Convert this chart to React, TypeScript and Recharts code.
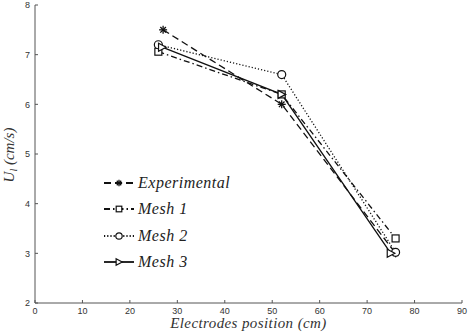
import { Line, LineChart, XAxis, YAxis } from 'recharts';

const expPositions = [27, 52, 76];
const expValues = [7.5, 6.0, 3.0];
const mesh1Positions = [26, 52, 76];
const mesh1Values = [7.06, 6.2, 3.3];
const mesh2Positions = [26, 52, 76];
const mesh2Values = [7.2, 6.6, 3.02];
const mesh3Positions = [26.8, 52, 75];
const mesh3Values = [7.15, 6.2, 3.0];

const xTicks = [0, 10, 20, 30, 40, 50, 60, 70, 80, 90];
const yTicks = [2, 3, 4, 5, 6, 7, 8];

const toPoints = (xs: number[], ys: number[]) => xs.map((x, i) => ({ x, y: ys[i] }));

type DotProps = { cx?: number; cy?: number; index?: number; s?: number };

function Star({ cx = 0, cy = 0, s = 1 }: DotProps) {
  const r = 4 * s;
  const d = r * 0.7;
  return (
    <g stroke="#111" strokeWidth={1.3}>
      <line x1={cx - r} y1={cy} x2={cx + r} y2={cy} />
      <line x1={cx} y1={cy - r} x2={cx} y2={cy + r} />
      <line x1={cx - d} y1={cy - d} x2={cx + d} y2={cy + d} />
      <line x1={cx - d} y1={cy + d} x2={cx + d} y2={cy - d} />
    </g>
  );
}

function Square({ cx = 0, cy = 0, s = 1 }: DotProps) {
  const h = 3.5 * s;
  return <rect x={cx - h} y={cy - h} width={2 * h} height={2 * h} fill="#fff" stroke="#111" strokeWidth={1.2} />;
}

function Circle({ cx = 0, cy = 0, s = 1 }: DotProps) {
  return <circle cx={cx} cy={cy} r={4 * s} fill="#fff" stroke="#111" strokeWidth={1.2} />;
}

function Triangle({ cx = 0, cy = 0, s = 1 }: DotProps) {
  const h = 4 * s;
  return (
    <polygon
      points={`${cx - h * 0.9},${cy - h} ${cx + h},${cy} ${cx - h * 0.9},${cy + h}`}
      fill="#fff"
      stroke="#111"
      strokeWidth={1.2}
    />
  );
}

const series = [
  { name: 'Experimental', data: toPoints(expPositions, expValues), dash: '7 4', Marker: Star },
  { name: 'Mesh 1', data: toPoints(mesh1Positions, mesh1Values), dash: '6 3 1.5 3', Marker: Square },
  { name: 'Mesh 2', data: toPoints(mesh2Positions, mesh2Values), dash: '1.2 2', Marker: Circle },
  { name: 'Mesh 3', data: toPoints(mesh3Positions, mesh3Values), dash: undefined, Marker: Triangle },
];

const tickStyle = { fill: '#333', fontSize: 9, fontFamily: 'Liberation Sans, sans-serif' };
const labelFont = 'Liberation Serif, serif';

function YLabel() {
  return (
    <text
      x={14}
      y={155}
      transform="rotate(-90 14 155)"
      textAnchor="middle"
      fontFamily={labelFont}
      fontStyle="italic"
      fontSize={15}
      fill="#333"
    >
      U<tspan fontSize={10} dy={3}>l</tspan>
      <tspan dy={-3}> (cm/s)</tspan>
    </text>
  );
}

function ChartLegend() {
  return (
    <div style={{ position: 'absolute', left: 103, top: 170 }}>
      {series.map((s) => (
        <div key={s.name} style={{ display: 'flex', alignItems: 'center', height: 26.3 }}>
          <svg width={32} height={14}>
            <line x1={1} y1={7} x2={31} y2={7} stroke="#111" strokeWidth={1.8} strokeDasharray={s.dash} />
            <s.Marker cx={16} cy={7} s={0.8} />
          </svg>
          <span
            style={{
              fontFamily: labelFont,
              fontStyle: 'italic',
              fontSize: 16,
              color: '#222',
              marginLeft: 3,
              letterSpacing: 0.5,
            }}
          >
            {s.name}
          </span>
        </div>
      ))}
    </div>
  );
}

export default function App() {
  return (
    <div style={{ position: 'absolute', left: 0, top: 0, width: 474, height: 333, background: '#fff' }}>
      <LineChart width={474} height={333} margin={{ top: 5, right: 12, left: 0, bottom: 0 }}>
        <XAxis
          type="number"
          dataKey="x"
          domain={[0, 90]}
          ticks={xTicks}
          allowDuplicatedCategory={false}
          height={30}
          tick={tickStyle}
          tickSize={-3}
          tickMargin={8}
          axisLine={{ stroke: '#555' }}
          tickLine={{ stroke: '#555' }}
          label={{
            value: 'Electrodes position (cm)',
            position: 'insideBottom',
            offset: 5,
            style: { fontFamily: labelFont, fontStyle: 'italic', fontSize: 15, fill: '#333', letterSpacing: 0.4 },
          }}
        />
        <YAxis
          type="number"
          dataKey="y"
          domain={[2, 8]}
          ticks={yTicks}
          width={35}
          tick={tickStyle}
          tickSize={-3}
          tickMargin={8}
          axisLine={{ stroke: '#555' }}
          tickLine={{ stroke: '#555' }}
          label={<YLabel />}
        />
        {series.map((s) => (
          <Line
            key={s.name}
            data={s.data}
            dataKey="y"
            name={s.name}
            type="linear"
            stroke="#111"
            strokeWidth={1.3}
            strokeDasharray={s.dash}
            isAnimationActive={false}
            dot={(p: DotProps) => <s.Marker key={`${s.name}-${p.index}`} cx={p.cx} cy={p.cy} />}
            activeDot={false}
          />
        ))}
      </LineChart>
      <ChartLegend />
    </div>
  );
}
